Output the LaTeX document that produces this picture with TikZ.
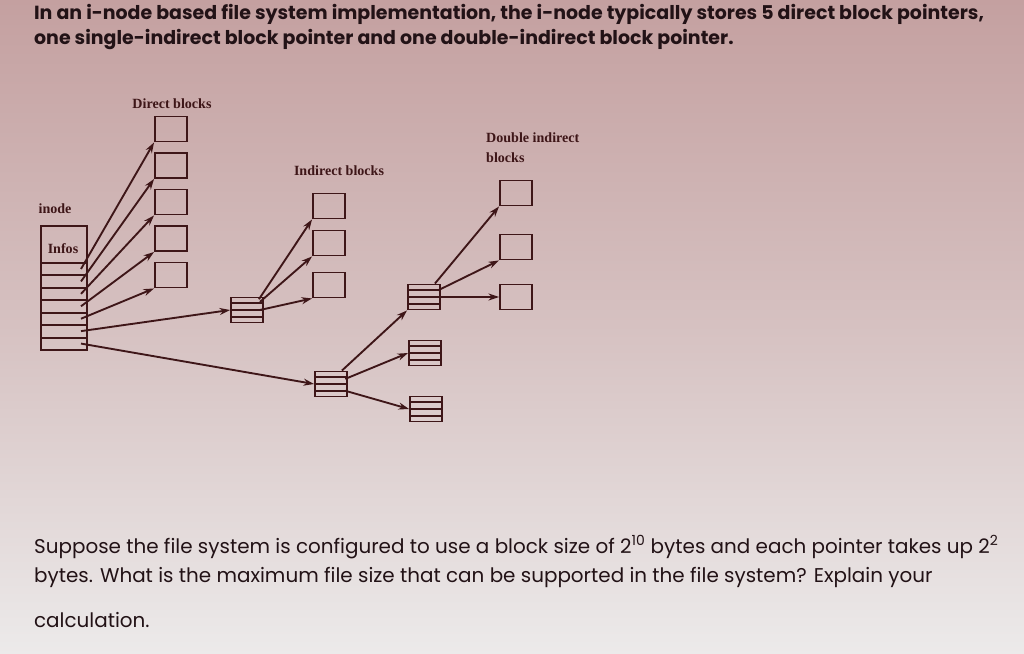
\documentclass[tikz,border=0pt]{standalone}
\usepackage{fontspec}
\setmainfont{Poppins}
\newfontfamily\figfont{Liberation Serif}
\usetikzlibrary{arrows.meta,calc}
\definecolor{bgtop}{RGB}{196,160,160}
\definecolor{bgbot}{RGB}{236,234,234}
\definecolor{ink}{RGB}{62,22,24}
\definecolor{txt}{RGB}{34,18,22}
\tikzset{
  blk/.style={draw=ink, line width=1.6pt, minimum width=0.96cm, minimum height=0.75cm, inner sep=0pt},
  ptr/.style={draw=ink, line width=1.6pt, -{Stealth[length=9pt,width=6pt]}},
  lbl/.style={font=\figfont\bfseries\fontsize{12}{14}\selectfont, text=ink, inner sep=0pt}
}
\begin{document}
\begin{tikzpicture}[x=0.03cm, y=-0.03cm]

    % Background of the page
    \shade[top color=bgtop, bottom color=bgbot, middle color=bgtop!55!bgbot] (0,0) rectangle (1024,654);
    \useasboundingbox (0,0) rectangle (1024,654);

    % Question text
    \node[anchor=west, text=txt, font=\bfseries\fontsize{16.2}{19}\selectfont] at (30,14)
      {In an i-node based file system implementation, the i-node typically stores 5 direct block pointers,};
    \node[anchor=west, text=txt, font=\bfseries\fontsize{16.2}{19}\selectfont] at (30,40)
      {one single-indirect block pointer and one double-indirect block pointer.};

    % The inode
    \node[draw=ink, line width=1.6pt, minimum width=1.38cm, minimum height=3.72cm, inner sep=0pt] (inode) at (64,288) {};
    \foreach \k in {0,...,6}
      \draw[ink, line width=1.6pt] (41,263+\k*12.43) -- (87,263+\k*12.43);
    \foreach \k in {1,...,7}
      \coordinate (r\k) at (81,269+\k*12.43-12.43);
    \node[lbl] at (55,209) {inode};
    \node[lbl] at (63,249) {Infos};

    % Direct blocks
    \node[lbl] at (172,104) {Direct blocks};
    \foreach \i in {1,...,5}
      \node[blk] (d\i) at (171,129+\i*36.5-36.5) {};
    \foreach \i in {1,...,5}
      \draw[ptr] (r\i) -- (d\i.south west);

    % Single indirect
    \node[lbl] at (339,171) {Indirect blocks};
    \node[blk] (ind) at (247,310) {};
    \node[blk] (i1) at (329,206) {};
    \node[blk] (i2) at (329,243) {};
    \node[blk] (i3) at (329,285) {};
    \draw[ptr] (r6) -- (ind.west);
    \draw[ptr] ([xshift=-0.15cm, yshift=-0.08cm]ind.north east) -- (i1.south west);
    \draw[ptr] ([xshift=-0.12cm, yshift=-0.16cm]ind.north east) -- (i2.south west);
    \draw[ptr] ([xshift=-0.12cm]ind.east) -- (i3.south west);

    % Double indirect
    \node[lbl, align=left, anchor=north west] at (486,133) {Double indirect\\[3pt]blocks};
    \node[blk] (dbl) at (331,384) {};
    \node[blk] (m1) at (424,297) {};
    \node[blk] (m2) at (425,353) {};
    \node[blk] (m3) at (426,409) {};
    \node[blk] (e1) at (516,193) {};
    \node[blk] (e2) at (516,247) {};
    \node[blk] (e3) at (516,297) {};
    \draw[ptr] (r7) -- (dbl.west);
    \draw[ptr] ([xshift=-0.18cm]dbl.north east) -- (m1.south west);
    \draw[ptr] ([xshift=-0.08cm, yshift=-0.25cm]dbl.north east) -- (m2.west);
    \draw[ptr] ([xshift=-0.08cm, yshift=0.2cm]dbl.south east) -- (m3.west);
    \draw[ptr] ([xshift=-0.18cm]m1.north east) -- (e1.south west);
    \draw[ptr] ([xshift=-0.08cm, yshift=-0.2cm]m1.north east) -- (e2.south west);
    \draw[ptr] ([xshift=-0.08cm]m1.east) -- (e3.west);

    % Rows of the pointer blocks
    \foreach \n in {ind,dbl,m1,m2,m3}
      \foreach \k in {1,2,3}
        \draw[ink, line width=1.6pt] ($(\n.north west)!\k/4!(\n.south west)$) -- ($(\n.north east)!\k/4!(\n.south east)$);

    % Question text, second part
    \node[anchor=west, text=txt, font=\fontsize{17}{20}\selectfont] at (30,547)
      {Suppose the file system is configured to use a block size of 2\textsuperscript{10} bytes and each pointer takes up 2\textsuperscript{2}};
    \node[anchor=west, text=txt, font=\fontsize{17}{20}\selectfont] at (30,577)
      {bytes. What is the maximum file size that can be supported in the file system? Explain your};
    \node[anchor=west, text=txt, font=\fontsize{17}{20}\selectfont] at (30,620)
      {calculation.};

\end{tikzpicture}
\end{document}
